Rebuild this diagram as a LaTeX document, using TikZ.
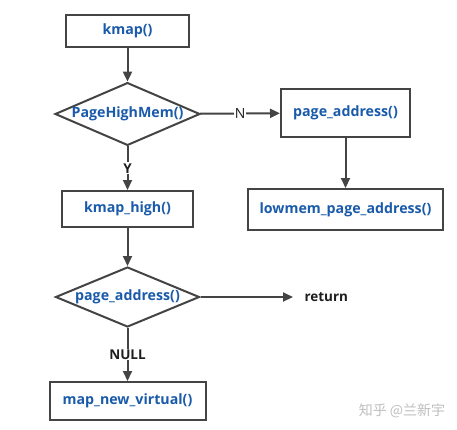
\documentclass[tikz,border=0pt]{standalone}
\usepackage{xcolor}
\usepackage{fontspec}
\setmainfont{Open Sans}
\newfontfamily\cjk{Noto Sans CJK SC}
\usepackage{tikz}
\usetikzlibrary{shapes,arrows.meta,positioning,shapes.geometric}
\definecolor{fnblue}{RGB}{25,90,170}
\definecolor{linegray}{RGB}{68,68,68}
\definecolor{labelgray}{RGB}{30,30,30}
\definecolor{markgray}{RGB}{190,190,190}

\begin{document}
\begin{tikzpicture}[x=1pt, y=-1pt, font=\bfseries\fontsize{14.2}{16}\selectfont,
    fnbox/.style={draw=linegray, line width=2pt, fill=white, text=fnblue,
                  inner sep=0pt},
    fndiamond/.style={diamond, draw=linegray, line width=2pt, fill=white,
                      text=fnblue, inner sep=0pt, aspect=2.3},
    flow/.style={draw=linegray, line width=2pt,
                 -{Triangle[length=10pt, width=9pt]}},
    edgelabel/.style={fill=white, text=labelgray, inner sep=1pt,
                      font=\bfseries\fontsize{13.5}{15}\selectfont}]
  \useasboundingbox (0,0) rectangle (457,429);
  % left column
  \node[fnbox, minimum width=123pt, minimum height=32pt](kmap) at (127.5,31){kmap()};
  \node[fndiamond, minimum width=145pt, minimum height=62pt](highmem) at (127.5,114)
    {PageHighMem()};
  \node[fnbox, minimum width=131pt, minimum height=36pt](kmaphigh) at (127.5,209)
    {kmap\_high()};
  \node[fndiamond, minimum width=144pt, minimum height=60pt](pagechk) at (127.5,297)
    {page\_address()};
  \node[fnbox, minimum width=156pt, minimum height=38pt](newvirt) at (127.5,401)
    {map\_new\_virtual()};
  % right column
  \node[fnbox, minimum width=129pt, minimum height=48pt](pageaddr) at (345.5,113)
    {page\_address()};
  \node[fnbox, minimum width=195pt, minimum height=41pt](lowmem) at (345.5,209.5)
    {lowmem\_page\_address()};
  \node[text=labelgray, anchor=west, font=\bfseries\fontsize{13.5}{15}\selectfont](ret)
    at (301,297){return};
  \node[text=markgray, font=\cjk\fontsize{14}{16}\selectfont](mark) at (402,411)
    {知乎 @兰新宇};

  \draw[flow](kmap) -- (highmem);
  \draw[flow](highmem) -- node[edgelabel, font=\fontsize{14}{16}\selectfont]{N} (pageaddr);
  \draw[flow](highmem) -- node[edgelabel]{Y} (kmaphigh);
  \draw[flow](pageaddr) -- (lowmem);
  \draw[flow](kmaphigh) -- (pagechk);
  \draw[flow](pagechk.east) -- ([xshift=-8pt]ret.west);
  \draw[flow](pagechk) -- node[edgelabel]{NULL} (newvirt);
\end{tikzpicture}
\end{document}
